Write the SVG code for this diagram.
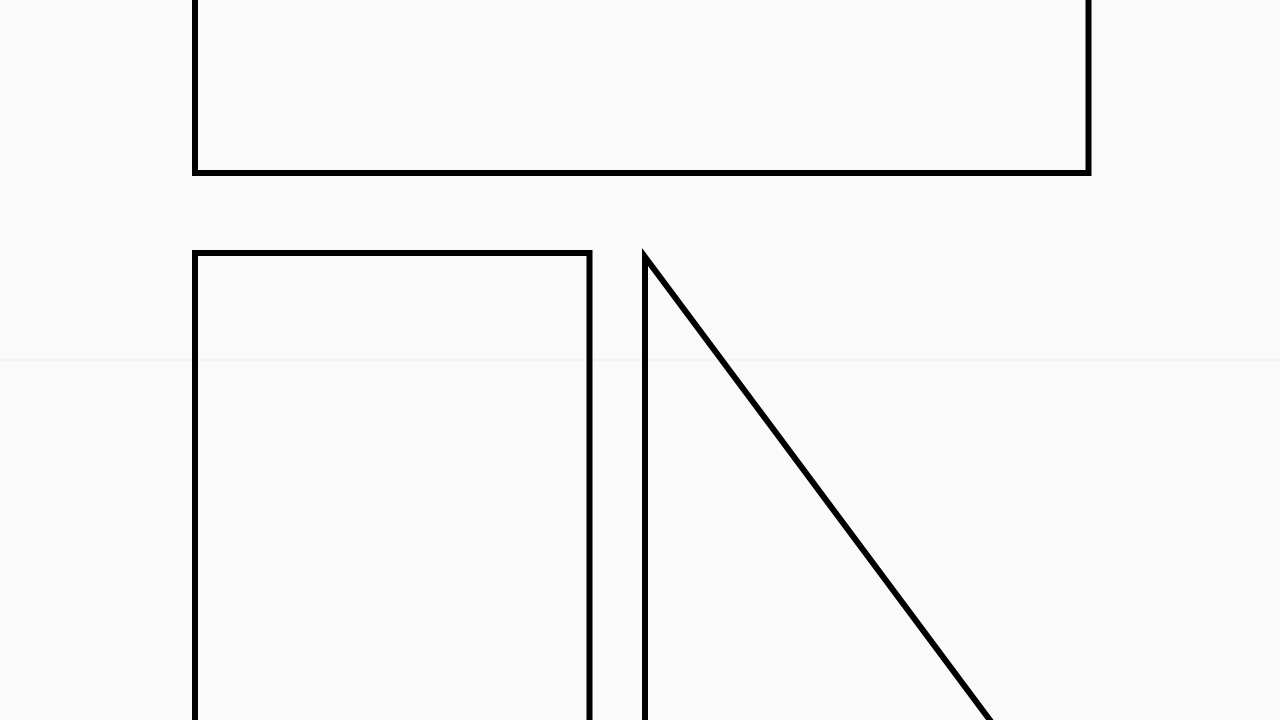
<svg xmlns="http://www.w3.org/2000/svg" width="1280" height="720" viewBox="0 0 1280 720">
<style>
.s{fill:none;stroke:#000;stroke-width:6;stroke-linejoin:miter;stroke-miterlimit:20}
</style>
<rect width="1280" height="720" fill="#fafafa"/>
<line x1="0" y1="360" x2="1280" y2="360" stroke="#f3f3f3" stroke-width="2"/>
<g id="top-rect"><rect class="s" x="195" y="-40" width="893.5" height="213"/></g>
<g id="left-rect"><rect class="s" x="195" y="253" width="394.5" height="520"/></g>
<g id="triangle"><polygon class="s" points="645,257 645,780 1034.5,780"/></g>
</svg>
